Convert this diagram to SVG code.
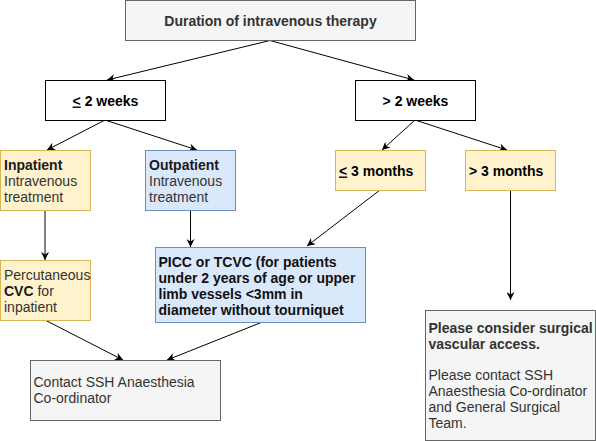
<svg xmlns="http://www.w3.org/2000/svg" width="596" height="441" viewBox="0 0 596 441">
<defs>
<marker id="arr" viewBox="0 0 10 10" refX="10" refY="5" markerWidth="9" markerHeight="8" markerUnits="userSpaceOnUse" orient="auto">
<path d="M0,0 L10,5 L0,10 L3,5 z" fill="#000"/>
</marker>
<style>
text{font-family:"Liberation Sans",Arial,Helvetica,sans-serif;font-size:14px;}
.b{font-weight:bold;}
.g{fill:#333333;}
.k{fill:#000000;}
.grey{fill:#f5f5f5;stroke:#666666;stroke-width:1;}
.white{fill:#ffffff;stroke:#000000;stroke-width:1;}
.yel{fill:#fff2cc;stroke:#d6b656;stroke-width:1;}
.blue{fill:#dae8fc;stroke:#6c8ebf;stroke-width:1;}
.e{stroke:#000;stroke-width:1;fill:none;marker-end:url(#arr);}
.u{text-decoration:underline;}
</style>
</defs>
<rect width="596" height="441" fill="#ffffff"/>
<g id="connectors">
<line class="e" x1="270" y1="40.5" x2="107" y2="80"/>
<line class="e" x1="270" y1="40.5" x2="414" y2="80"/>
<line class="e" x1="105" y1="120" x2="47" y2="150"/>
<line class="e" x1="105" y1="120" x2="197" y2="150"/>
<line class="e" x1="415" y1="120" x2="382" y2="150"/>
<line class="e" x1="415" y1="120" x2="507" y2="150"/>
<line class="e" x1="45" y1="210" x2="45" y2="260"/>
<line class="e" x1="190.5" y1="210" x2="190.5" y2="247"/>
<line class="e" x1="380" y1="190" x2="307" y2="246"/>
<line class="e" x1="510.5" y1="190" x2="510.5" y2="300"/>
<line class="e" x1="45" y1="320" x2="123" y2="360"/>
<line class="e" x1="260" y1="323" x2="167" y2="360"/>
</g>
<g id="duration">
<rect class="grey" x="125.5" y="0.5" width="290" height="40"/>
<text class="b g" x="270.5" y="25.5" text-anchor="middle">Duration of intravenous therapy</text>
</g>
<g id="le2weeks">
<rect class="white" x="45.5" y="80.5" width="120" height="40"/>
<text class="b k" x="105.5" y="105.5" text-anchor="middle"><tspan class="u">&lt;</tspan> 2 weeks</text>
</g>
<g id="gt2weeks">
<rect class="white" x="355.5" y="80.5" width="120" height="40"/>
<text class="b k" x="415.5" y="105.5" text-anchor="middle">&gt; 2 weeks</text>
</g>
<g id="inpatient">
<rect class="yel" x="0.5" y="150.5" width="90" height="60"/>
<text class="g" x="4" y="169.5"><tspan class="b" fill="#1a1a1a">Inpatient</tspan><tspan x="4" y="185.5">Intravenous</tspan><tspan x="4" y="201.5">treatment</tspan></text>
</g>
<g id="outpatient">
<rect class="blue" x="145.5" y="150.5" width="90" height="60"/>
<text class="g" x="149" y="169.5"><tspan class="b" fill="#1a1a1a">Outpatient</tspan><tspan x="149" y="185.5">Intravenous</tspan><tspan x="149" y="201.5">treatment</tspan></text>
</g>
<g id="le3months">
<rect class="yel" x="335.5" y="150.5" width="90" height="40"/>
<text class="b k" x="339" y="175.5"><tspan class="u">&lt;</tspan> 3 months</text>
</g>
<g id="gt3months">
<rect class="yel" x="465.5" y="150.5" width="90" height="40"/>
<text class="b k" x="469" y="175.5">&gt; 3 months</text>
</g>
<g id="percutaneous">
<rect class="yel" x="0.5" y="260.5" width="90" height="60"/>
<text class="g" x="4" y="279.5">Percutaneous<tspan x="4" y="295.5"><tspan class="b" fill="#1a1a1a">CVC</tspan> for</tspan><tspan x="4" y="311.5">inpatient</tspan></text>
</g>
<g id="picc">
<rect class="blue" x="155.5" y="247.5" width="210" height="75"/>
<text class="b" fill="#111111" x="158.5" y="267">PICC or TCVC (for patients<tspan x="158.5" y="283">under 2 years of age or upper</tspan><tspan x="158.5" y="299">limb vessels &lt;3mm in</tspan><tspan x="158.5" y="315">diameter without tourniquet</tspan></text>
</g>
<g id="surgical">
<rect class="grey" x="425.5" y="310.5" width="170" height="130"/>
<text class="g" x="428.5" y="332.5"><tspan class="b">Please consider surgical</tspan><tspan class="b" x="428.5" y="348.5">vascular access.</tspan><tspan x="428.5" y="380">Please contact SSH</tspan><tspan x="428.5" y="396">Anaesthesia Co-ordinator</tspan><tspan x="428.5" y="412">and General Surgical</tspan><tspan x="428.5" y="427.5">Team.</tspan></text>
</g>
<g id="contact">
<rect class="grey" x="30.5" y="360.5" width="190" height="60"/>
<text class="g" x="33.5" y="386.5">Contact SSH Anaesthesia<tspan x="33.5" y="403">Co-ordinator</tspan></text>
</g>
</svg>
